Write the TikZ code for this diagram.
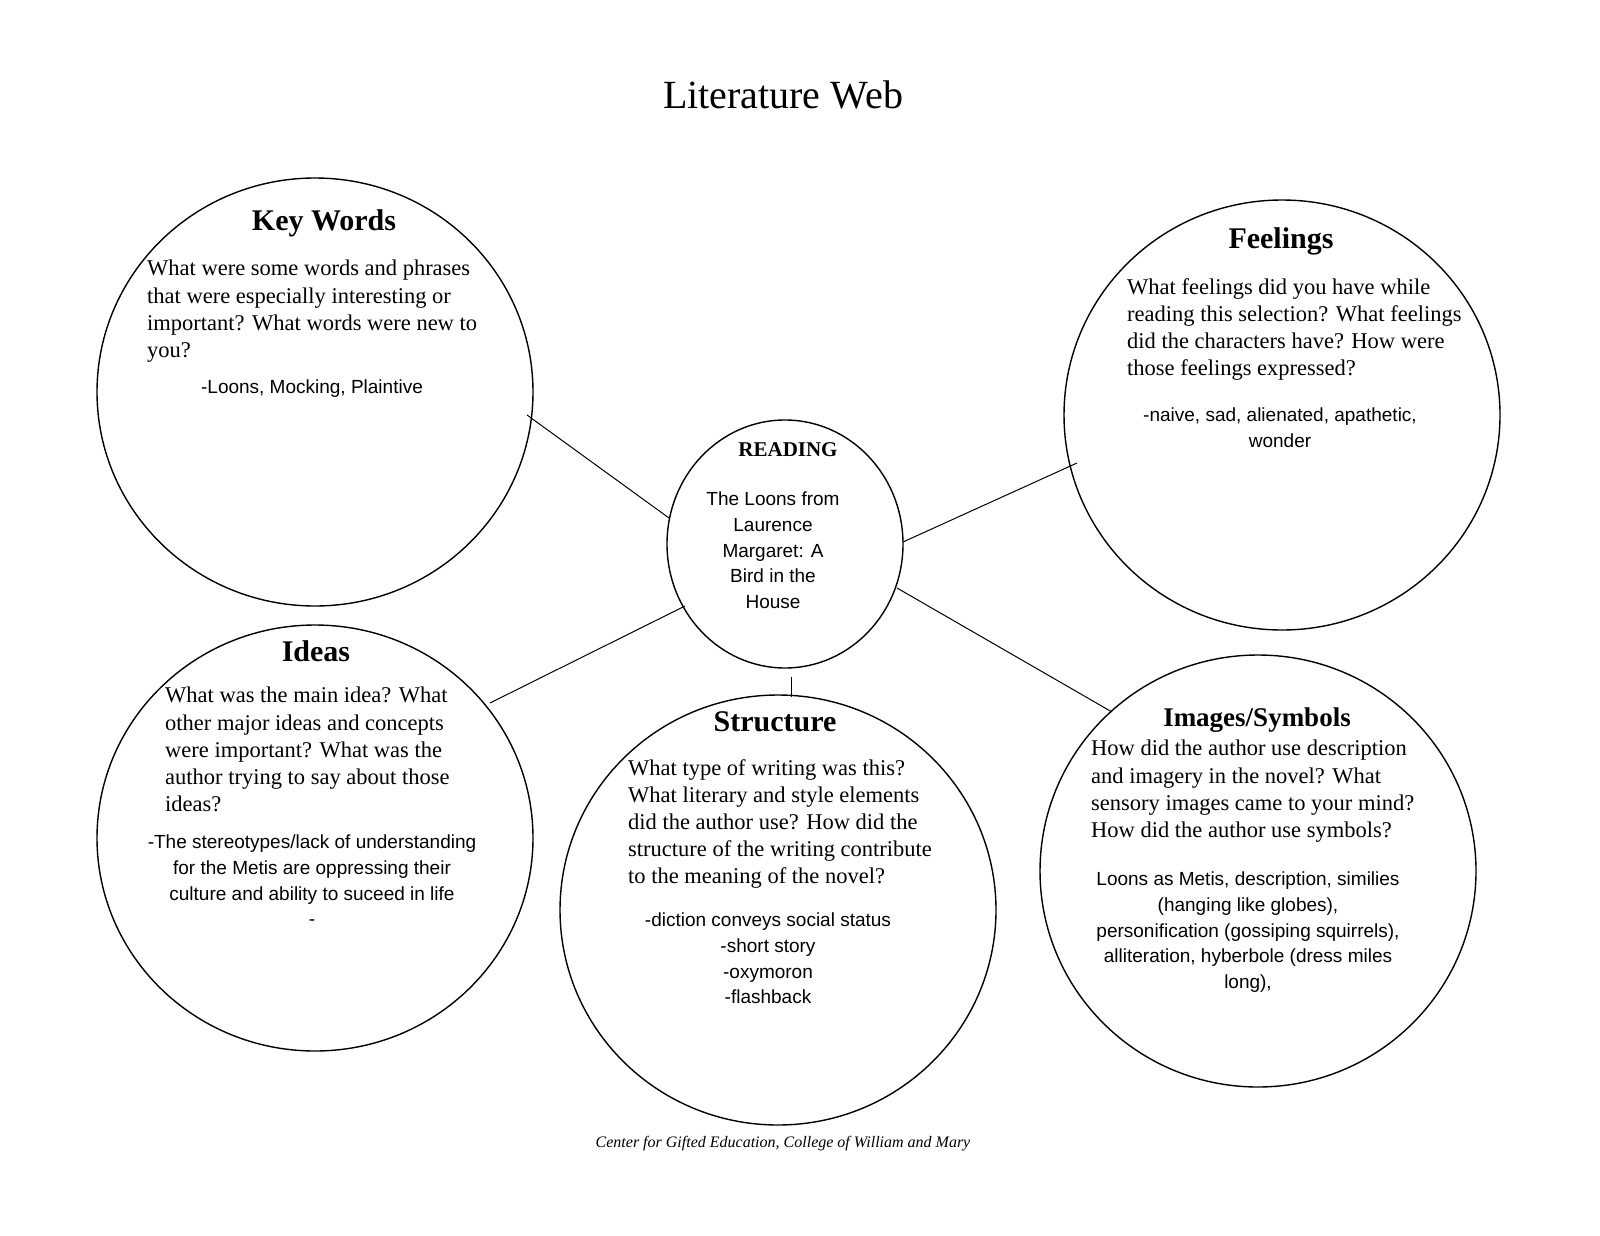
\documentclass[tikz,border=0pt]{standalone}
\usepackage{fontspec}
\setmainfont{Liberation Serif}
\newfontfamily\sansf{Liberation Sans}
\usetikzlibrary{shapes.geometric}
\begin{document}
\begin{tikzpicture}[x=1pt,y=-1pt,
  bub/.style={draw,ellipse,line width=1.4pt,minimum width=#1},
  head/.style={font=\fontsize{30}{34}\selectfont\bfseries,inner sep=0},
  body/.style={font=\fontsize{22.5}{27.2}\selectfont,align=left,anchor=north west,inner sep=0},
  ans/.style={font=\sansf\fontsize{19}{25.6}\selectfont,align=center,anchor=north,inner sep=0},
  link/.style={line width=1pt}]
\useasboundingbox (0,0) rectangle (1600,1236);
\node[font=\fontsize{40}{44}\selectfont] (title) at (783,95) {Literature Web};
\node[bub=436pt,minimum height=428pt] (kw) at (315,392) {};
\node[bub=436pt,minimum height=430pt] (fe) at (1282,415) {};
\node[bub=236pt,minimum height=248pt] (rd) at (785,544) {};
\node[bub=436pt,minimum height=426pt] (id) at (315,838) {};
\node[bub=436pt,minimum height=430pt] (st) at (778,910) {};
\node[bub=436pt,minimum height=432pt] (im) at (1258,871) {};
\coordinate (a1) at (527,415); \coordinate (a2) at (669,518);
\coordinate (b1) at (903,542); \coordinate (b2) at (1077,463);
\coordinate (c1) at (490,703); \coordinate (c2) at (685,606);
\coordinate (d1) at (791,677); \coordinate (d2) at (791,697);
\coordinate (e1) at (897,588); \coordinate (e2) at (1112,712);
\draw[link] (a1)--(a2); \draw[link] (b1)--(b2); \draw[link] (c1)--(c2);
\draw[link] (d1)--(d2); \draw[link] (e1)--(e2);
% Key words
\node[head] (kwh) at (324,223) {Key Words};
\node[body] (kwb) at (147,260) {What were some words and phrases\\that were especially interesting or\\important? What words were new to\\you?};
\node[ans] (kwa) at (312,380) {-Loons, Mocking, Plaintive};
% Feelings
\node[head] (feh) at (1281,241) {Feelings};
\node[body] (feb) at (1127,278) {What feelings did you have while\\reading this selection? What feelings\\did the characters have? How were\\those feelings expressed?};
\node[ans] (fea) at (1280,408) {-naive, sad, alienated, apathetic,\\wonder};
% Reading
\node[font=\fontsize{21}{24}\selectfont\bfseries,inner sep=0] (rdh) at (788,450) {READING};
\node[ans] (rda) at (773,492) {The Loons from\\Laurence\\Margaret: A\\Bird in the\\House};
% Ideas
\node[head] (idh) at (316,651) {Ideas};
\node[body] (idb) at (165,687) {What was the main idea? What\\other major ideas and concepts\\were important? What was the\\author trying to say about those\\ideas?};
\node[ans] (ida) at (312,835) {-The stereotypes/lack of understanding\\for the Metis are oppressing their\\culture and ability to suceed in life\\-};
% Structure
\node[head] (sth) at (775,722) {Structure};
\node[body] (stb) at (628,759) {What type of writing was this?\\What literary and style elements\\did the author use? How did the\\structure of the writing contribute\\to the meaning of the novel?};
\node[ans] (sta) at (768,913) {-diction conveys social status\\-short story\\-oxymoron\\-flashback};
% Images
\node[head,font=\fontsize{27}{30}\selectfont\bfseries] (imh) at (1257,720) {Images/Symbols};
\node[body] (imb) at (1091,740) {How did the author use description\\and imagery in the novel? What\\sensory images came to your mind?\\How did the author use symbols?};
\node[ans] (ima) at (1248,872) {Loons as Metis, description, similies\\(hanging like globes),\\personification (gossiping squirrels),\\alliteration, hyberbole (dress miles\\long),};
\node[font=\fontsize{16}{18}\selectfont\itshape] (foot) at (783,1144) {Center for Gifted Education, College of William and Mary};
\end{tikzpicture}
\end{document}
